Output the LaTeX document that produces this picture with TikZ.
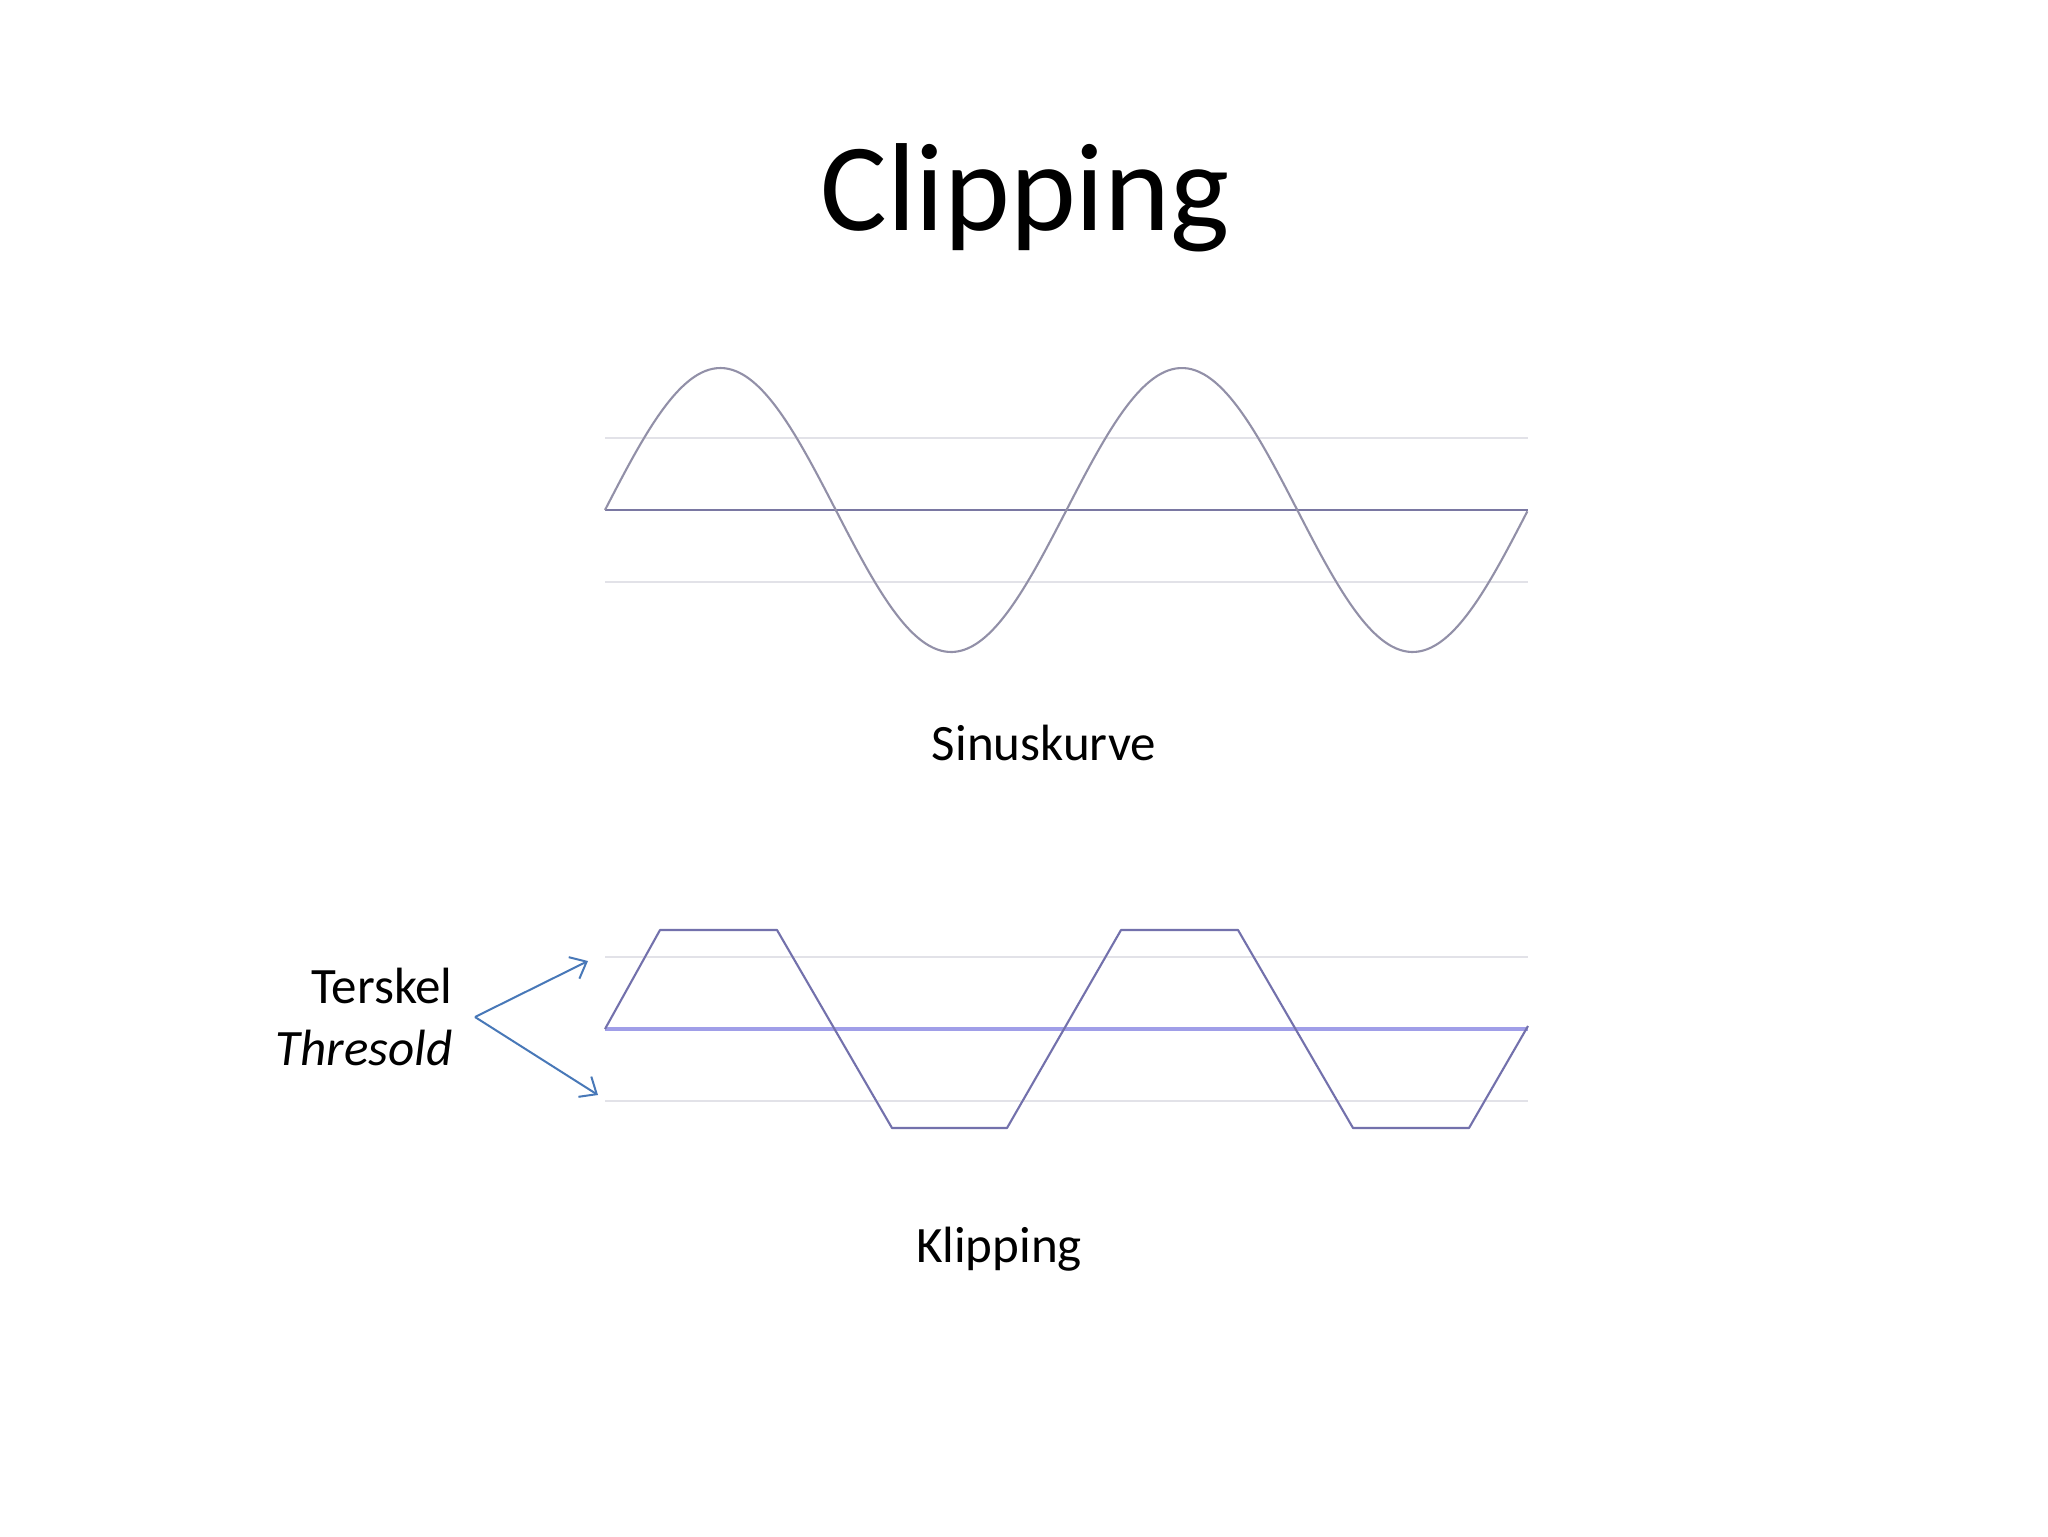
\documentclass[tikz,border=0pt]{standalone}
\usepackage{fontspec}
\setmainfont{Carlito}
\usetikzlibrary{arrows.meta}
\definecolor{sinecol}{RGB}{146,144,168}
\definecolor{basecol}{RGB}{122,120,162}
\definecolor{thrcol}{RGB}{226,226,232}
\definecolor{clipcol}{RGB}{115,113,172}
\definecolor{clipbase}{RGB}{160,158,232}
\definecolor{arrcol}{RGB}{72,120,184}
\tikzset{
  wave/.style={line width=1.05pt, line join=round},
  thr/.style={draw=thrcol, line width=1pt},
  lbl/.style={font=\fontsize{25.5}{30}\selectfont, inner sep=0pt},
  pointer/.style={draw=arrcol, line width=1pt, -{Straight Barb[length=7pt,width=12pt]}}
}
\begin{document}
\begin{tikzpicture}[x=0.5pt,y=-0.5pt]
\useasboundingbox (0,0) rectangle (2048,1536);
\fill[white] (0,0) rectangle (2048,1536);
% title
\node[inner sep=0pt, anchor=base, font=\fontsize{62.6}{75}\selectfont] (title) at (1025,230) {Clipping};
% top: sine
\draw[thr] (605,438) -- (1528,438);
\draw[thr] (605,582) -- (1528,582);
\draw[draw=basecol, line width=1.1pt] (605,510) -- (1528,510);
\draw[wave, draw=sinecol, domain=0:2, samples=240, smooth] plot ({\x*461.5+605},{510-142*sin(\x*360)});
\node[lbl, anchor=base] (sinus) at (1044,760) {Sinuskurve};
% bottom: clipped
\draw[thr] (605,957) -- (1528,957);
\draw[thr] (605,1101) -- (1528,1101);
\draw[draw=clipbase, line width=1.6pt] (605,1029) -- (1528,1029);
\draw[wave, draw=clipcol] (605,1029) -- (660,930) -- (777,930) -- (892,1128) -- (1007,1128)
  -- (1121,930) -- (1238,930) -- (1353,1128) -- (1469,1128) -- (1528,1026);
\node[lbl, anchor=base] (klipp) at (999,1262) {Klipping};
% threshold label
\node[lbl, anchor=base east] (terskel) at (453,1003) {Terskel};
\node[lbl, anchor=base east] (thresold) at (453,1065) {\itshape Thresold};
\coordinate (apex) at (475,1017);
\coordinate (tup) at (588,961);
\coordinate (tdn) at (598,1095);
\draw[pointer] (apex) -- (tup);
\draw[pointer] (apex) -- (tdn);
\end{tikzpicture}
\end{document}
